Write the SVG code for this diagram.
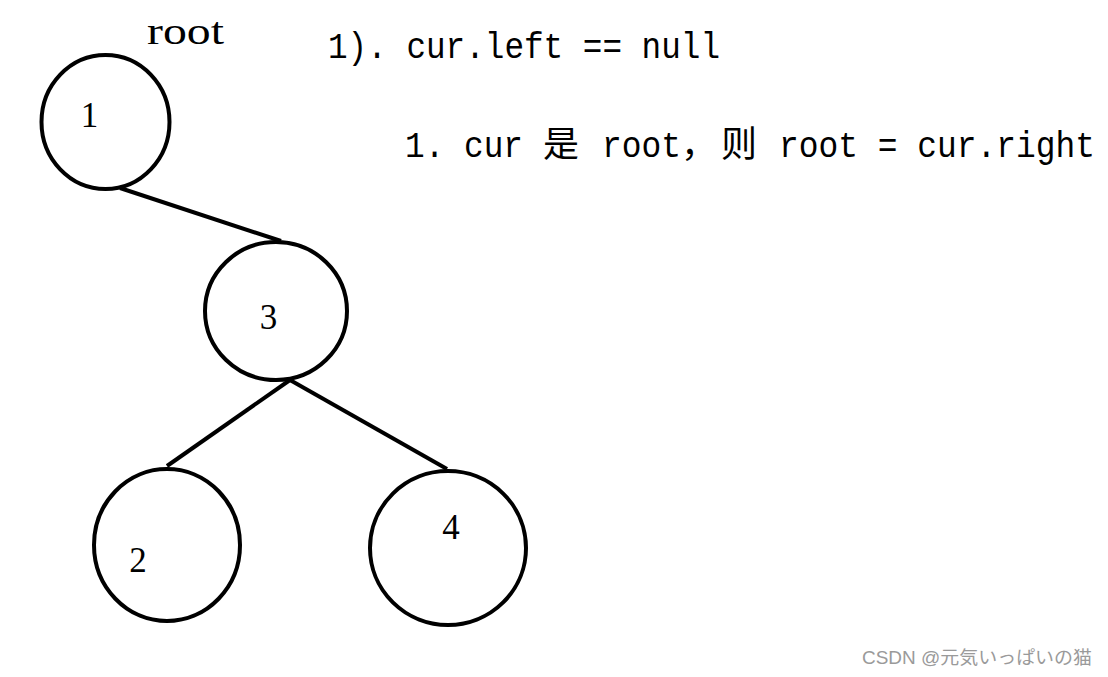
<svg xmlns="http://www.w3.org/2000/svg" width="1108" height="677" viewBox="0 0 1108 677">
<style>
.node{fill:none;stroke:#000;stroke-width:4}
.edge{stroke:#000;stroke-width:4;fill:none}
.num{font-family:"Liberation Serif",serif;font-size:35px;fill:#000;text-anchor:middle}
.mono{font-family:"Liberation Mono","Noto Sans CJK SC",monospace;font-size:36px;fill:#000}
.cjk{font-family:"Noto Sans CJK SC",sans-serif;font-size:36px;fill:#000}
.wm{font-family:"Liberation Sans","Noto Sans CJK JP",sans-serif;font-size:18px;fill:#9a9a9a}
</style>
<rect width="1108" height="677" fill="#fff"/>
<g id="connectors">
<line class="edge" x1="120" y1="188" x2="281" y2="241"/>
<line class="edge" x1="290" y1="380" x2="167" y2="466"/>
<line class="edge" x1="290" y1="380" x2="447" y2="469"/>
</g>
<g id="node1">
<ellipse class="node" cx="105.5" cy="122" rx="64" ry="67"/>
<text class="num" x="89.5" y="127">1</text>
</g>
<g id="node3">
<ellipse class="node" cx="276" cy="311" rx="71" ry="69"/>
<text class="num" x="268.5" y="329">3</text>
</g>
<g id="node2">
<ellipse class="node" cx="167" cy="545" rx="73" ry="76"/>
<text class="num" x="138" y="572">2</text>
</g>
<g id="node4">
<ellipse class="node" cx="448" cy="548" rx="78" ry="77"/>
<text class="num" x="451" y="539">4</text>
</g>
<g id="root-label">
<text x="147" y="44" font-family="Liberation Serif, serif" font-size="38" textLength="77" lengthAdjust="spacingAndGlyphs">root</text>
</g>
<g id="notes">
<text class="mono" x="328" y="58" textLength="392" lengthAdjust="spacingAndGlyphs">1). cur.left == null</text>
<text class="mono" y="157"><tspan x="405" textLength="118" lengthAdjust="spacingAndGlyphs">1. cur</tspan><tspan x="602" textLength="79" lengthAdjust="spacingAndGlyphs">root</tspan><tspan x="779" textLength="316" lengthAdjust="spacingAndGlyphs">root = cur.right</tspan></text>
<text class="cjk" y="157"><tspan x="543">是</tspan><tspan x="681">，</tspan><tspan x="721">则</tspan></text>
</g>
<text class="wm" x="862" y="664" textLength="230" lengthAdjust="spacingAndGlyphs">CSDN @元気いっぱいの猫</text>
</svg>
